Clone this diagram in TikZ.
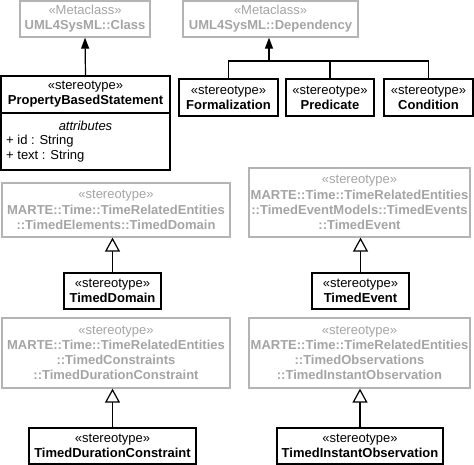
\documentclass[tikz,border=0pt]{standalone}
\usepackage{fontspec}
\setmainfont{Liberation Sans}
\usetikzlibrary{arrows.meta}
\definecolor{greyline}{HTML}{B4B4B4}
\definecolor{greytext}{HTML}{A4A4A4}
\begin{document}
\begin{tikzpicture}[x=1pt,y=-1pt,
  every node/.style={font=\fontsize{13}{15.2}\selectfont},
  blackbox/.style={draw=black, line width=1.6pt, align=center, inner xsep=5pt, inner ysep=0pt, minimum height=36pt, fill=white},
  greybox/.style={draw=greyline, line width=1.3pt, text=greytext, align=center, inner sep=0pt},
  conn/.style={line width=1.2pt},
  gen/.style={conn, -{Triangle[open,width=15pt,length=14pt,fill=white]}},
  assoc/.style={conn, -{Triangle[width=8pt,length=11pt]}}
]
\useasboundingbox (0,0) rectangle (474,465);

% top row
\node[greybox, minimum width=130pt, minimum height=36pt] (cls) at (85,19) {«Metaclass»\\\textbf{UML4SysML::Class}};
\node[greybox, minimum width=175pt, minimum height=36pt] (dep) at (270.5,19) {«Metaclass»\\\textbf{UML4SysML::Dependency}};

% PropertyBasedStatement
\node[blackbox, minimum width=169pt, minimum height=37pt] (pbs) at (85.5,94.5) {«stereotype»\\\textbf{PropertyBasedStatement}};
\node[draw=black, line width=1.6pt, minimum width=169pt, minimum height=57pt, inner sep=0pt] (pbsattr) at (85.5,141.5) {};
\node (attrlabel) at (85.5,126) {\itshape attributes};
\node[anchor=west, inner xsep=0pt] (attrid) at (6,141) {+ id : String};
\node[anchor=west, inner xsep=0pt] (attrtext) at (6,156) {+ text : String};
\draw[assoc] (pbs.north) -- (cls.south);

% Dependency children
\node[blackbox, minimum width=99pt, minimum height=37pt] (form) at (228.5,97.5) {«stereotype»\\\textbf{Formalization}};
\node[blackbox, minimum width=88pt, minimum height=37pt] (pred) at (330,97.5) {«stereotype»\\\textbf{Predicate}};
\node[blackbox, minimum width=89pt, minimum height=37pt] (cond) at (428.5,97.5) {«stereotype»\\\textbf{Condition}};
\coordinate (bus) at (269,61);
\draw[conn] (form.north) |- (cond.north |- bus) -- (cond.north);
\draw[conn] (pred.north) -- (pred.north |- bus);
\draw[assoc] (bus) -- (dep.south -| bus);

% middle row
\node[greybox, minimum width=228pt, minimum height=54pt] (tdpar) at (116,210) {«stereotype»\\\textbf{MARTE::Time::TimeRelatedEntities}\\\textbf{::TimedElements::TimedDomain}};
\node[blackbox, minimum width=97pt] (td) at (112.5,291) {«stereotype»\\\textbf{TimedDomain}};
\draw[gen] (td.north) -- (td.north |- tdpar.south);

\node[greybox, minimum width=221pt, minimum height=69pt] (tepar) at (359.5,202.5) {«stereotype»\\\textbf{MARTE::Time::TimeRelatedEntities}\\\textbf{::TimedEventModels::TimedEvents}\\\textbf{::TimedEvent}};
\node[blackbox, minimum width=97pt] (te) at (360.5,291) {«stereotype»\\\textbf{TimedEvent}};
\draw[gen] (te.north) -- (te.north |- tepar.south);

% bottom row
\node[greybox, minimum width=228pt, minimum height=70pt] (tdcpar) at (116,353) {«stereotype»\\\textbf{MARTE::Time::TimeRelatedEntities}\\\textbf{::TimedConstraints}\\\textbf{::TimedDurationConstraint}};
\node[blackbox] (tdc) at (112.5,446) {«stereotype»\\\textbf{TimedDurationConstraint}};
\draw[gen] (tdc.north) -- (tdc.north |- tdcpar.south);

\node[greybox, minimum width=221pt, minimum height=70pt] (tiopar) at (359.5,353) {«stereotype»\\\textbf{MARTE::Time::TimeRelatedEntities}\\\textbf{::TimedObservations}\\\textbf{::TimedInstantObservation}};
\node[blackbox] (tio) at (360,446) {«stereotype»\\\textbf{TimedInstantObservation}};
\draw[gen] (tio.north) -- (tio.north |- tiopar.south);
\end{tikzpicture}
\end{document}
